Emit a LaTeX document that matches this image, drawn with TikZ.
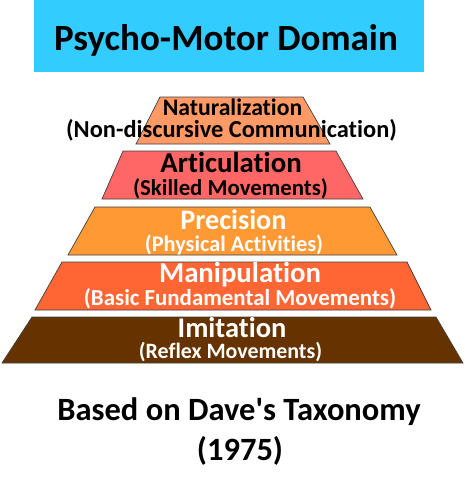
\documentclass[tikz,border=0pt]{standalone}
\usepackage{fontspec}
\setmainfont{Carlito}[Ligatures={NoCommon}]
\definecolor{titlebg}{HTML}{33CCFF}
\definecolor{natc}{HTML}{FF9966}
\definecolor{artc}{HTML}{FF6666}
\definecolor{prec}{HTML}{FF9933}
\definecolor{manc}{HTML}{FF6633}
\definecolor{imic}{HTML}{663300}
\definecolor{edgec}{HTML}{3F3F3F}
\tikzset{
  tier/.style={draw=edgec, line width=0.7pt, line join=miter},
  lbl/.style={anchor=base, inner sep=0pt, font=\bfseries\fontsize{#1}{#1}\selectfont},
}
\begin{document}
\begin{tikzpicture}[x=1pt,y=-1pt]
\useasboundingbox (0,0) rectangle (464,490);
\fill[titlebg] (34,0) rectangle (424,72);
\node[lbl=37] (title) at (226,50) {Psycho-Motor Domain};
% tiers
\path[tier, fill=natc] (160,97) -- (303,97) -- (330,144) -- (136,144) -- cycle;
\path[tier, fill=artc] (123,151) -- (336,151) -- (363,199) -- (102,199) -- cycle;
\path[tier, fill=prec] (95,207) -- (370,207) -- (397,255) -- (68,255) -- cycle;
\path[tier, fill=manc] (62,262) -- (407,262) -- (431,310) -- (35,310) -- cycle;
\path[tier, fill=imic] (32,317) -- (436,317) -- (463,363) -- (2,363) -- cycle;
% labels
\node[lbl=23.7] (nat) at (232.5,115) {Naturalization};
\node[lbl=24.4] (natsub) at (231.5,137) {(Non-discursive Communication)};
\node[lbl=28.8] (art) at (231,172) {Articulation};
\node[lbl=22.8] (artsub) at (230.5,195) {(Skilled Movements)};
\node[lbl=28.2, text=white] (pre) at (233.5,229.5) {Precision};
\node[lbl=22.3, text=white] (presub) at (234,251.5) {(Physical Activities)};
\node[lbl=28.8, text=white] (man) at (240,282) {Manipulation};
\node[lbl=22.9, text=white] (mansub) at (240,305) {(Basic Fundamental Movements)};
\node[lbl=28.5, text=white] (imi) at (232,337) {Imitation};
\node[lbl=21.9, text=white] (imisub) at (230.5,358) {(Reflex Movements)};
% bottom text
\node[lbl=32.5] (based) at (239,420) {Based on Dave\textquotesingle s Taxonomy};
\node[lbl=32.5] (year) at (240,460) {(1975)};
\end{tikzpicture}
\end{document}
